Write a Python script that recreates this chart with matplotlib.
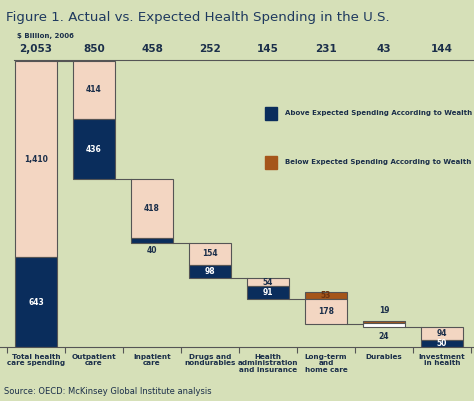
import matplotlib
matplotlib.use("Agg")
import matplotlib.pyplot as plt

categories = ["Total health\ncare spending", "Outpatient\ncare", "Inpatient\ncare", "Drugs and\nnondurables",
              "Health\nadministration\nand insurance", "Long-term\nand\nhome care", "Durables", "Investment\nin health"]
totals = ["2,053", "850", "458", "252", "145", "231", "43", "144"]
bar_tops = [2053, 2053, 1203, 745, 493, 398, 190, 144]
brown_vals = [0, 0, 0, 0, 0, 53, 19, 0]
peach_vals = [1410, 414, 418, 154, 54, 178, 24, 94]
navy_vals = [643, 436, 40, 98, 91, 0, 0, 50]

BG = "#d6e0b8"; PEACH = "#f3d6c2"; NAVY = "#0a2d5c"; BROWN = "#a5561a"; DARK = "#1b2f4a"
fig = plt.figure(figsize=(4.74, 4.01), dpi=100, facecolor=BG)
ax = fig.add_axes([0, 1 - 347/401, 1, (347 - 61)/401])
ax.set_facecolor(BG)
ax.set_xlim(-36/58, (474-36)/58)
ax.set_ylim(0, 2053)
w = 42/58
FS = 5.5
for i in range(len(categories)):
    top = bar_tops[i]
    b, p, n = brown_vals[i], peach_vals[i], navy_vals[i]
    y = top
    if b:
        ax.bar(i, b, bottom=y-b, width=w, color=BROWN, edgecolor="#555", lw=0.8)
        y -= b
    ax.bar(i, p, bottom=y-p, width=w, color=PEACH if i != 6 else "white", edgecolor="#555", lw=0.8)
    ymid_p = y - p/2; y -= p
    if n:
        ax.bar(i, n, bottom=y-n, width=w, color=NAVY, edgecolor="#555", lw=0.8)
        ymid_n = y - n/2; y -= n
    if i == 6:
        ax.text(i, top + 40, str(b), ha="center", va="bottom", fontsize=FS, color=DARK, weight="bold")
        ax.text(i, y - 40, str(p), ha="center", va="top", fontsize=FS, color=DARK, weight="bold")
    else:
        if b:
            ax.text(i, top - b/2, str(b), ha="center", va="center", fontsize=FS, color="#6b3210", weight="bold")
        ax.text(i, ymid_p, f"{p:,}", ha="center", va="center", fontsize=FS, color=DARK, weight="bold")
        if n:
            if i == 2:
                ax.text(i, y - 20, str(n), ha="center", va="top", fontsize=FS, color=DARK, weight="bold")
            else:
                ax.text(i, ymid_n, str(n), ha="center", va="center", fontsize=FS, color="white", weight="bold")
    if 0 < i < len(categories) - 1:
        ax.plot([i + w/2, i + 1 - w/2], [y, y], color="#555", lw=0.8)
ax.plot([w/2, 1 - w/2], [2053, 2053], color="#555", lw=0.8)
for s in ["top", "right", "left"]:
    ax.spines[s].set_visible(False)
ax.spines["bottom"].set_color("#555")
ax.set_yticks([])
ax.set_xticks([i + 0.5 for i in range(-1, 8)])
ax.set_xticklabels([])
ax.tick_params(axis="x", direction="out", length=4, color="#555")
for i, c in enumerate(categories):
    ax.text(i, -50, c, ha="center", va="top", fontsize=5.2, color=DARK, weight="bold", linespacing=1.1)

fig.text(0.012, 1 - 17/401, "Figure 1. Actual vs. Expected Health Spending in the U.S.", fontsize=9.6, color="#1f3a5f", va="center")
fig.text(0.035, 1 - 36/401, "$ Billion, 2006", fontsize=5, color=DARK, weight="bold", va="center")
for i, t in enumerate(totals):
    fig.text((36 + 58*i)/474, 1 - 49/401, t, fontsize=7.5, color=DARK, weight="bold", ha="center", va="center")
fig.add_artist(plt.Line2D([14/474, 1], [1 - 60/401]*2, color="#555", lw=0.8))
fig.add_artist(plt.Rectangle((265/474, 1-120/401), 12/474, 13/401, color=NAVY))
fig.text(285/474, 1-113/401, "Above Expected Spending According to Wealth", fontsize=5, color=DARK, weight="bold", va="center")
fig.add_artist(plt.Rectangle((265/474, 1-169/401), 12/474, 13/401, color=BROWN))
fig.text(285/474, 1-162/401, "Below Expected Spending According to Wealth", fontsize=5, color=DARK, weight="bold", va="center")
fig.text(0.008, 1-392/401, "Source: OECD: McKinsey Global Institute analysis", fontsize=6, color=DARK, va="center")
fig.savefig("out.png", dpi=100, facecolor=BG)
